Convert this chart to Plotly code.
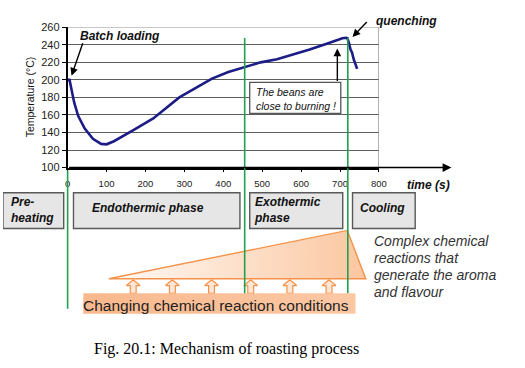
import plotly.graph_objects as go

W, H = 525, 368
# plot area (pixels)
PL, PR, PT, PB = 66, 384, 22, 167
X_MAX, Y_MIN, Y_MAX = 800, 100, 260

# ---- data ----
time_s = [0, 5, 10, 17, 27, 44, 65, 86, 100, 119, 169, 220, 287, 329, 371, 413,
          455, 496, 538, 580, 622, 664, 706, 716, 719, 723, 727, 731, 735, 744]
temp_c = [200, 200, 189, 174, 159, 144.5, 132.7, 127, 126.5, 130, 142.6, 156, 180,
          190.5, 201.5, 209, 215, 220, 223.6, 229, 234.6, 241, 247.5, 248, 247.5,
          242, 234.6, 231, 223.6, 212.5]
y_ticks = [100, 120, 140, 160, 180, 200, 220, 240, 260]
x_ticks = [0, 100, 200, 300, 400, 500, 600, 700, 800]
phase_bounds = [0, 455, 720]
arrow_xs = [133, 173, 213, 253, 293, 333]

FONT = "Liberation Sans"


def tx(t):
    return PL + t / X_MAX * (PR - PL)


fig = go.Figure()

fig.add_trace(go.Scatter(x=time_s, y=temp_c, mode="lines",
                         line=dict(color="#1c1c86", width=2.6),
                         xaxis="x", yaxis="y", showlegend=False, hoverinfo="skip"))

# orange wedge (overlay pixel axes)
tri_x = [108, 351.7, 370.5, 108]
tri_y = [282, 232, 282, 282]
fig.add_trace(go.Scatter(x=tri_x, y=tri_y, mode="lines", fill="toself",
                         fillgradient=dict(type="horizontal",
                                           colorscale=[[0, "#fffaf6"], [1, "#fbc7a0"]]),
                         line=dict(color="#f5924a", width=1.4),
                         xaxis="x2", yaxis="y2", showlegend=False, hoverinfo="skip"))

# hollow up arrows
for cx in arrow_xs:
    ax_ = [cx, cx + 7, cx + 3, cx + 3, cx - 3, cx - 3, cx - 7, cx]
    ay_ = [283, 289, 289, 297, 297, 289, 289, 283]
    fig.add_trace(go.Scatter(x=ax_, y=ay_, mode="lines", fill="toself",
                             fillcolor="#fde6d5",
                             line=dict(color="#f5924a", width=1.2),
                             xaxis="x2", yaxis="y2", showlegend=False, hoverinfo="skip"))

# band
fig.add_trace(go.Scatter(x=[82, 360, 360, 82, 82], y=[297, 297, 318, 318, 297],
                         mode="lines", fill="toself",
                         fillgradient=dict(type="horizontal",
                                           colorscale=[[0, "#f9b88d"], [1, "#fcc8a4"]]),
                         line=dict(color="rgba(0,0,0,0)", width=0),
                         xaxis="x2", yaxis="y2", showlegend=False, hoverinfo="skip"))

shapes = []
# lighter top gridline and right border
shapes.append(dict(type="line", xref="x", yref="y", x0=0, x1=X_MAX, y0=260, y1=260,
                   line=dict(color="#b5b5b5", width=1.3), layer="above"))
shapes.append(dict(type="line", xref="x", yref="y", x0=X_MAX, x1=X_MAX, y0=Y_MIN, y1=Y_MAX,
                   line=dict(color="#8a8a8a", width=1.3), layer="above"))

# phase boxes
boxes = [(0, 62), (72, 242), (252, 347), (357, 421)]
for x0, x1 in boxes:
    shapes.append(dict(type="rect", xref="x2", yref="y2", x0=x0, x1=x1, y0=193, y1=230,
                       fillcolor="#e6e6e6", line=dict(color="#595959", width=1.4),
                       layer="below"))
# beans box
shapes.append(dict(type="rect", xref="x2", yref="y2", x0=252, x1=345, y0=79, y1=111,
                   fillcolor="white", line=dict(color="#555555", width=1.3), layer="above"))

# green phase lines
green_spans = [(170, 313), (33, 297), (33, 297)]
for b, (y0, y1) in zip(phase_bounds, green_spans):
    shapes.append(dict(type="line", xref="x2", yref="y2", x0=tx(b), x1=tx(b), y0=y0, y1=y1,
                       line=dict(color="#22a152", width=1.6), layer="above"))

ann = []


def txt(x, y, text, size, color="#111", xanchor="left", family=FONT, **kw):
    ann.append(dict(x=x, y=y, xref="x2", yref="y2", text=text, showarrow=False,
                    xanchor=xanchor, yanchor="middle",
                    font=dict(family=family, size=size, color=color), **kw))


def arrow(x, y, axp, ayp, width=1.4):
    ann.append(dict(x=x, y=y, ax=axp, ay=ayp, xref="x2", yref="y2", axref="x2", ayref="y2",
                    text="", showarrow=True, arrowhead=2, arrowsize=1.1, arrowwidth=width,
                    arrowcolor="black", standoff=0, startstandoff=0))


# x-axis extension arrow
arrow(458, PB, PL, PB, width=1.6)
arrow(70, 72, 82, 37)
arrow(357, 32, 373, 15)
arrow(341.5, 44, 341.5, 79)

txt(77, 31, "<b><i>Batch loading</i></b>", 12)
txt(379, 15, "<b><i>quenching</i></b>", 12)
txt(411, 185, "<b><i>time (s)</i></b>", 12)
txt(256, 96, "<i>The beans are<br>close to burning !</i>", 10.5, align="left")
txt(6, 210.5, "<b><i>Pre-<br>heating</i></b>", 12, align="left")
txt(89, 208.5, "<b><i>Endothermic phase</i></b>", 12)
txt(254, 211, "<b><i>Exothermic<br>phase</i></b>", 12, align="left")
txt(363, 208.5, "<b><i>Cooling</i></b>", 12)
for yy, line in zip([243.3, 260.7, 278.3, 295.5],
                    ["Complex chemical", "reactions that", "generate the aroma", "and flavour"]):
    txt(377, yy, "<i>" + line + "</i>", 14, color="#333")
txt(218, 309.5, "Changing chemical reaction conditions", 15.5, color="#222", xanchor="center")
txt(228.5, 355, "Fig. 20.1: Mechanism of roasting process", 16, color="#000",
    xanchor="center", family="Liberation Serif")
txt(28, 94, "Temperature (°C)", 10.5, color="#111", xanchor="center", textangle=-90)

fig.update_layout(
    width=W, height=H, autosize=False,
    margin=dict(l=0, r=0, t=0, b=0),
    paper_bgcolor="white", plot_bgcolor="rgba(0,0,0,0)",
    showlegend=False,
    xaxis=dict(domain=[PL / W, PR / W], range=[0, X_MAX], tickvals=x_ticks,
               showgrid=False, zeroline=False, showline=True, linecolor="black",
               linewidth=1.6, ticks="outside", ticklen=3, tickcolor="black",
               tickfont=dict(family=FONT, size=9.5, color="#222"),
               ticklabelstandoff=3, anchor="y", fixedrange=True),
    yaxis=dict(domain=[1 - PB / H, 1 - PT / H], range=[Y_MIN, Y_MAX], tickvals=y_ticks,
               showgrid=True, gridcolor="#5e5e5e", gridwidth=1.4, zeroline=False,
               showline=True, linecolor="black", linewidth=1.6, ticks="outside",
               ticklen=4, tickcolor="black",
               tickfont=dict(family=FONT, size=11, color="#222"), anchor="x",
               fixedrange=True),
    xaxis2=dict(domain=[0, 1], range=[0, W], visible=False, anchor="y2", fixedrange=True),
    yaxis2=dict(domain=[0, 1], range=[H, 0], visible=False, anchor="x2", fixedrange=True),
    shapes=shapes, annotations=ann,
)

fig.write_html("out.html", config={"displayModeBar": False},
               post_script="document.body.style.margin='0';document.body.style.overflow='hidden';")
